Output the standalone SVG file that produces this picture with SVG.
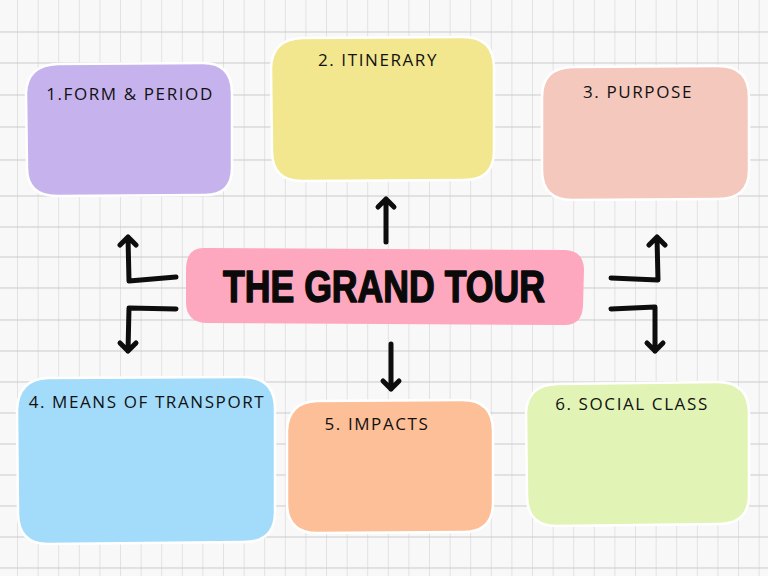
<svg xmlns="http://www.w3.org/2000/svg" width="768" height="576" viewBox="0 0 768 576">
<style>
.lbl{font-family:"Open Sans","Liberation Sans",sans-serif;font-size:17px;fill:#111;letter-spacing:1.6px}
.box{stroke:#ffffff;stroke-width:2.5}
.conn{fill:none;stroke:#0d0d0d;stroke-width:5;stroke-linecap:round;stroke-linejoin:round}
.title{font-family:"Liberation Sans",sans-serif;font-weight:bold;font-size:44px;fill:#0a0a0a;stroke:#0a0a0a;stroke-width:1.5;stroke-linejoin:round}
.gl{stroke:#cbcbcb;stroke-width:1}
</style>
<defs>
<pattern id="vg" x="-2.6" y="0" width="20.6" height="576" patternUnits="userSpaceOnUse">
<line class="gl" x1="20.6" y1="0" x2="20.6" y2="576"/>
</pattern>
</defs>
<rect width="768" height="576" fill="#f8f8f8"/>
<rect width="768" height="576" fill="url(#vg)"/>
<g class="gl">
<line x1="0" y1="32" x2="768" y2="32"/>
<line x1="0" y1="63" x2="768" y2="63"/>
<line x1="0" y1="95" x2="768" y2="95"/>
<line x1="0" y1="127" x2="768" y2="127"/>
<line x1="0" y1="160" x2="768" y2="160"/>
<line x1="0" y1="196" x2="768" y2="196"/>
<line x1="0" y1="227" x2="768" y2="227"/>
<line x1="0" y1="257" x2="768" y2="257"/>
<line x1="0" y1="288" x2="768" y2="288"/>
<line x1="0" y1="320" x2="768" y2="320"/>
<line x1="0" y1="351" x2="768" y2="351"/>
<line x1="0" y1="382" x2="768" y2="382"/>
<line x1="0" y1="413" x2="768" y2="413"/>
<line x1="0" y1="444" x2="768" y2="444"/>
<line x1="0" y1="475" x2="768" y2="475"/>
<line x1="0" y1="506" x2="768" y2="506"/>
<line x1="0" y1="537" x2="768" y2="537"/>
<line x1="0" y1="568" x2="768" y2="568"/>
</g>

<g id="connectors">
<path class="conn" d="M386 242 L386 199 M378 207 L386 199 L394 207"/>
<path class="conn" d="M391 344 L391 389 M383 381 L391 389 L399 381"/>
<path class="conn" d="M176 277 L129 281 L128 237 M120 245 L128 237 L136 245"/>
<path class="conn" d="M176 309 L129 308 L128 351 M120 343 L128 351 L136 343"/>
<path class="conn" d="M611 278 L658 280 L657 237 M649 245 L657 237 L665 245"/>
<path class="conn" d="M611 309 L655 307 L655 351 M647 343 L655 351 L663 343"/>
</g>

<g id="node-center">
<path d="M205 248 L565 250 Q584 251 584 270 L583 306 Q582 326 563 325 L206 323 Q186 322 186 302 L186 268 Q187 247 205 248 Z" fill="#fda8bf"/>
<text class="title" x="384" y="302" text-anchor="middle" textLength="322" lengthAdjust="spacingAndGlyphs">THE GRAND TOUR</text>
</g>

<g id="node-1">
<path class="box" d="M58 64 L203 63 Q232 63 232 93 L232 168 Q232 196 203 195 L57 196 Q27 196 27 168 L26 93 Q27 65 58 64 Z" fill="#c6b3ee"/>
<text class="lbl" x="130" y="100" text-anchor="middle">1.FORM &amp; PERIOD</text>
</g>

<g id="node-2">
<path class="box" d="M302 38 L463 37 Q494 37 494 68 L494 151 Q494 180 464 180 L302 181 Q272 181 272 151 L271 68 Q272 39 302 38 Z" fill="#f2e78e"/>
<text class="lbl" x="378" y="66" text-anchor="middle">2. ITINERARY</text>
</g>

<g id="node-3">
<path class="box" d="M572 67 L718 66 Q749 66 749 97 L749 170 Q749 199 718 199 L572 200 Q542 200 542 170 L542 97 Q542 68 572 67 Z" fill="#f5c8be"/>
<text class="lbl" x="638" y="98" text-anchor="middle">3. PURPOSE</text>
</g>

<g id="node-4">
<path class="box" d="M48 378 L243 377 Q275 377 275 409 L275 512 Q275 542 244 542 L48 544 Q18 544 18 513 L17 410 Q18 379 48 378 Z" fill="#a3dcfb"/>
<text class="lbl" x="147" y="408" text-anchor="middle">4. MEANS OF TRANSPORT</text>
</g>

<g id="node-5">
<path class="box" d="M317 401 L462 400 Q493 400 493 431 L493 503 Q493 532 463 532 L317 533 Q287 533 287 503 L287 431 Q288 402 317 401 Z" fill="#fdbf97"/>
<text class="lbl" x="377" y="430" text-anchor="middle">5. IMPACTS</text>
</g>

<g id="node-6">
<path class="box" d="M557 384 L717 382 Q749 382 749 413 L749 495 Q749 524 718 524 L557 526 Q527 526 527 496 L526 413 Q527 385 557 384 Z" fill="#e2f4b5"/>
<text class="lbl" x="632" y="410" text-anchor="middle">6. SOCIAL CLASS</text>
</g>
</svg>
